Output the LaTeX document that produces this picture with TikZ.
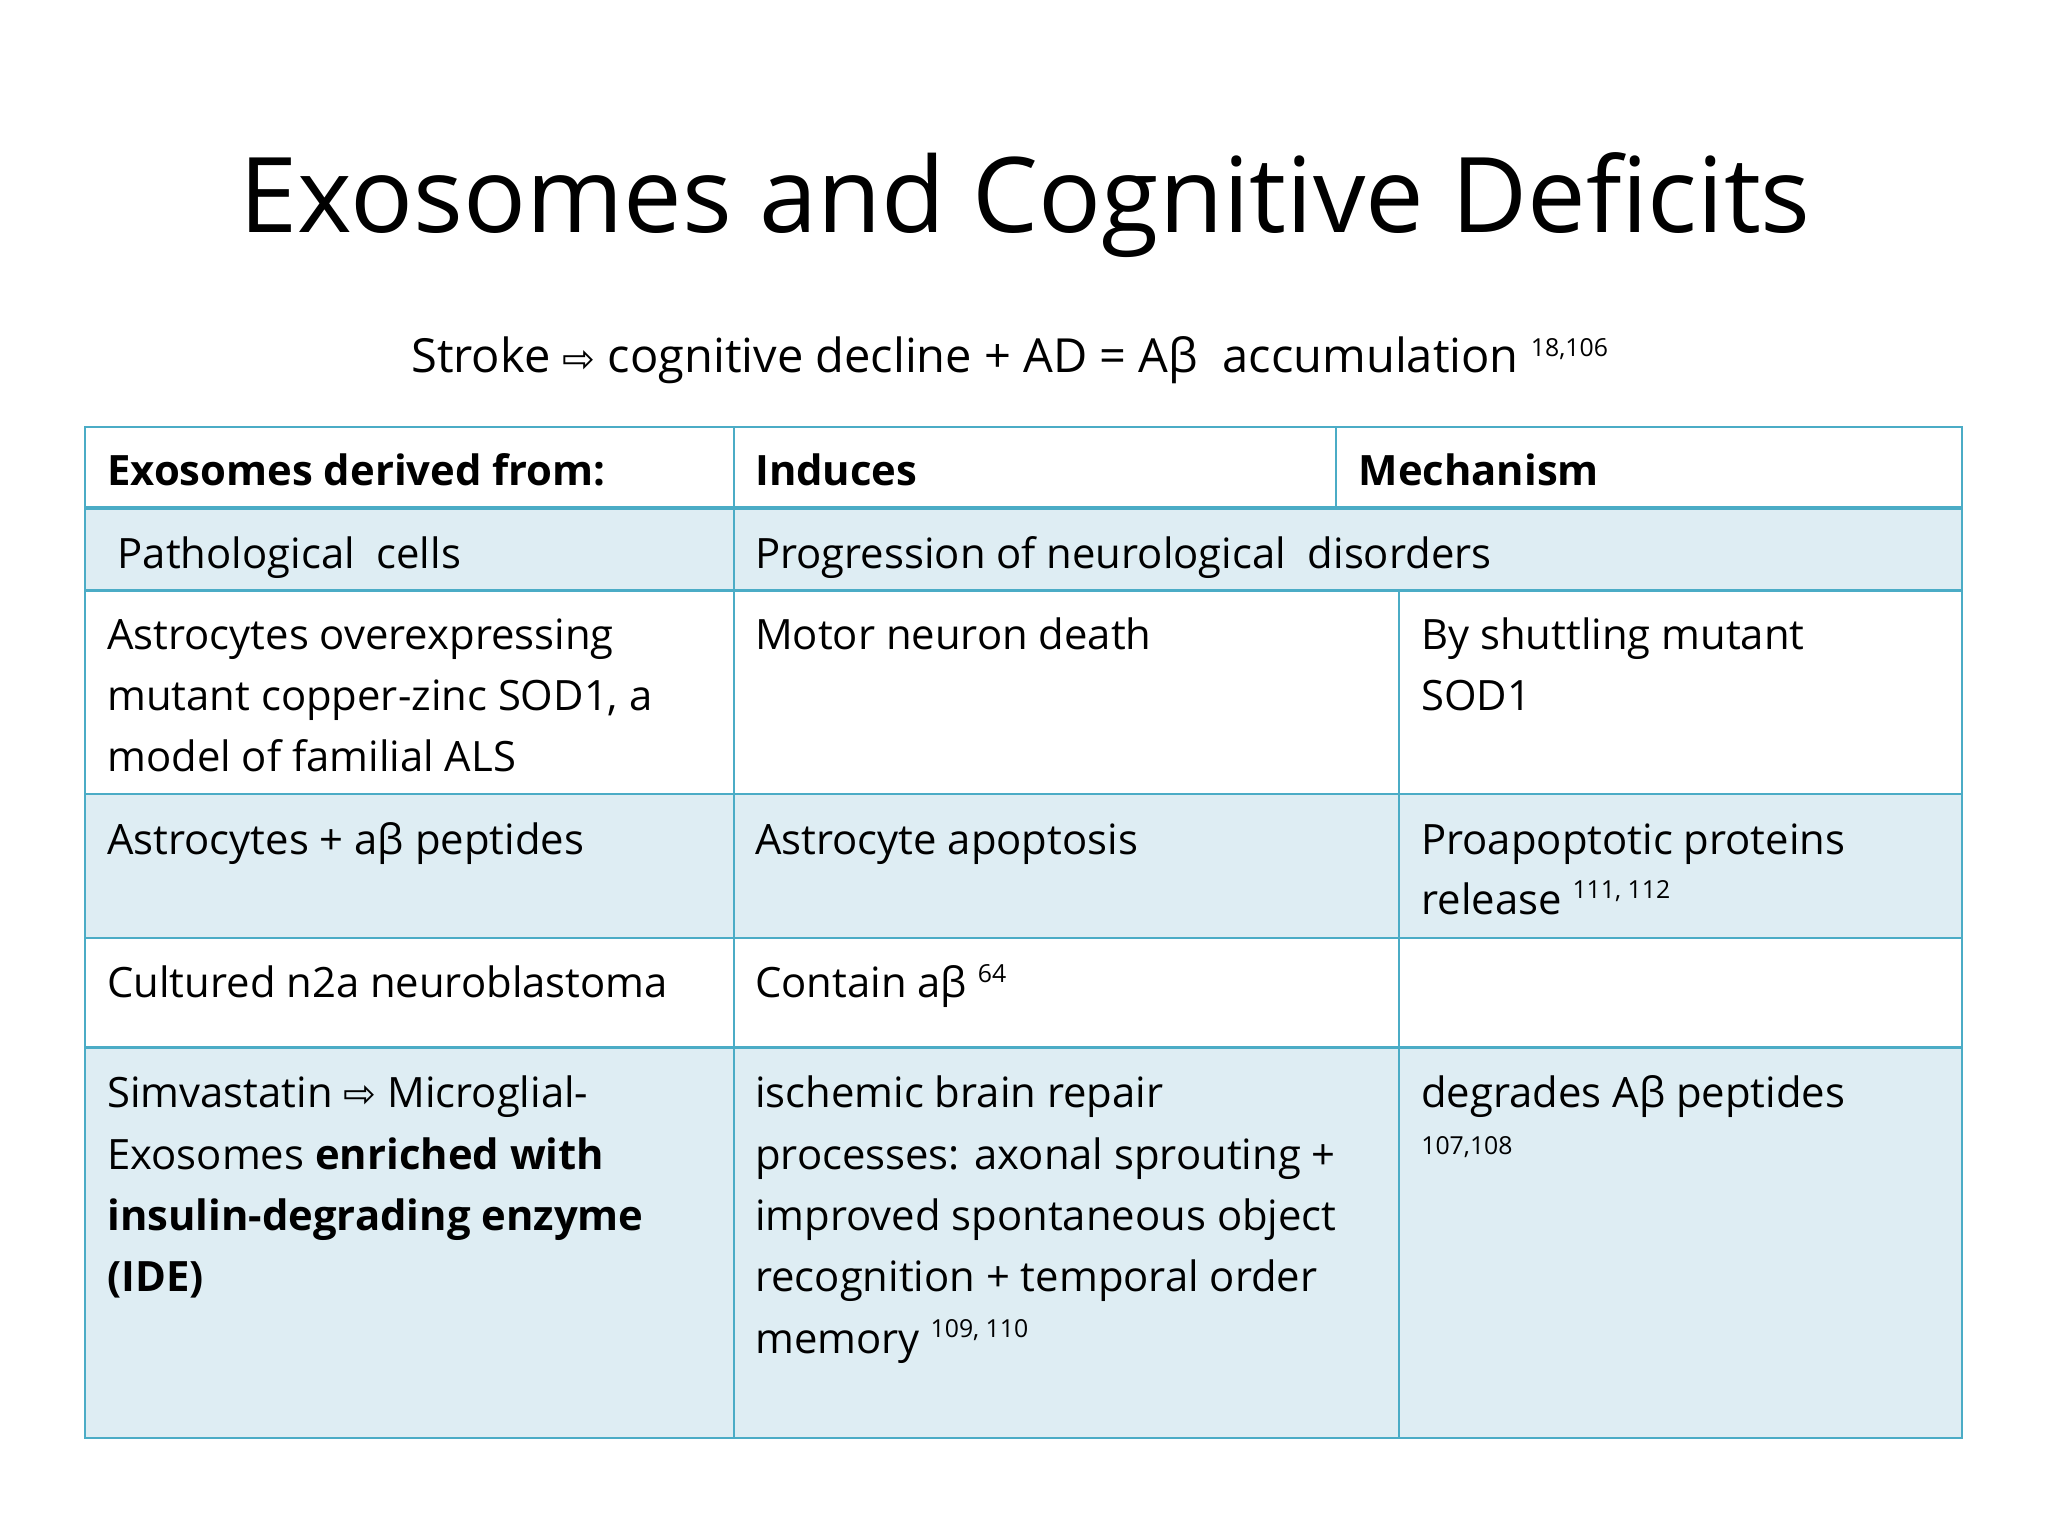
\documentclass[tikz,border=0pt]{standalone}
\usepackage{fontspec}
\setmainfont{Open Sans}
\newfontfamily\symf{DejaVu Sans}
\definecolor{tline}{RGB}{75,172,198}
\definecolor{tfill}{RGB}{222,237,243}
\newcommand{\arr}{{\symf\fontsize{30}{30}\selectfont ⇨}}
\newcommand{\sups}[1]{\raisebox{12pt}{\fontsize{19}{19}\selectfont #1}}
\begin{document}
\begin{tikzpicture}[x=1pt,y=-1pt,
  cell/.style={anchor=base west,inner sep=0pt,font=\fontsize{32}{40}\selectfont},
  grid/.style={draw=tline,line width=2pt}]
\useasboundingbox (0,0) rectangle (1568,1176);
\fill[white] (0,0) rectangle (1568,1176);
% fills
\fill[tfill] (65,389) rectangle (1502,452);
\fill[tfill] (65,608) rectangle (1502,718);
\fill[tfill] (65,802) rectangle (1502,1101);
% grid
\draw[grid] (65,327) rectangle (1502,1101);
\draw[grid,line width=3.5pt] (65,389) -- (1502,389);
\foreach \y in {452,608,718,802} \draw[grid] (65,\y) -- (1502,\y);
\draw[grid] (562,327) -- (562,1101);
\draw[grid] (1023,327) -- (1023,389);
\draw[grid] (1071,452) -- (1071,1101);
% title
\node[anchor=base,inner sep=0pt,font=\fontsize{80}{90}\selectfont] (title) at (785,178) {Exosomes and Cognitive Deficits};
\node[anchor=base,inner sep=0pt,font=\fontsize{36}{40}\selectfont] (sub) at (773,285) {Stroke \arr{} cognitive decline + AD = Aβ~ accumulation \sups{18,106}};
% header
\node[cell,font=\bfseries\fontsize{32}{40}\selectfont] (h1) at (82,372) {Exosomes derived from:};
\node[cell,font=\bfseries\fontsize{32}{40}\selectfont] (h2) at (578,372) {Induces};
\node[cell,font=\bfseries\fontsize{32}{40}\selectfont] (h3) at (1040,372) {Mechanism};
% row 2
\node[cell] (r2a) at (90,435) {Pathological~ cells};
\node[cell] (r2b) at (578,435) {Progression of neurological~ disorders};
% row 3
\node[cell] (r3a1) at (82,497) {Astrocytes overexpressing};
\node[cell] (r3a2) at (82,544) {mutant copper-zinc SOD1, a};
\node[cell] (r3a3) at (82,591) {model of familial ALS};
\node[cell] (r3b) at (578,497) {Motor neuron death};
\node[cell] (r3c1) at (1088,497) {By shuttling mutant};
\node[cell] (r3c2) at (1088,544) {SOD1};
% row 4
\node[cell] (r4a) at (82,654) {Astrocytes + aβ peptides};
\node[cell] (r4b) at (578,654) {Astrocyte apoptosis};
\node[cell] (r4c1) at (1088,654) {Proapoptotic proteins};
\node[cell] (r4c2) at (1088,700) {release \sups{111, 112}};
% row 5
\node[cell] (r5a) at (82,764) {Cultured n2a neuroblastoma};
\node[cell] (r5b) at (578,764) {Contain aβ \sups{64}};
% row 6
\node[cell] (r6a1) at (82,848) {Simvastatin \arr{} Microglial-};
\node[cell] (r6a2) at (82,895) {Exosomes \textbf{enriched with}};
\node[cell] (r6a3) at (82,942) {\textbf{insulin-degrading enzyme}};
\node[cell] (r6a4) at (82,989) {\textbf{(IDE)}};
\node[cell] (r6b1) at (578,848) {ischemic brain repair};
\node[cell] (r6b2) at (578,895) {processes: axonal sprouting +};
\node[cell] (r6b3) at (578,942) {improved spontaneous object};
\node[cell] (r6b4) at (578,989) {recognition + temporal order};
\node[cell] (r6b5) at (578,1036) {memory \sups{109, 110}};
\node[cell] (r6c1) at (1088,848) {degrades Aβ peptides};
\node[cell,font=\fontsize{19}{19}\selectfont] (r6c2) at (1088,884) {107,108};
\end{tikzpicture}
\end{document}
